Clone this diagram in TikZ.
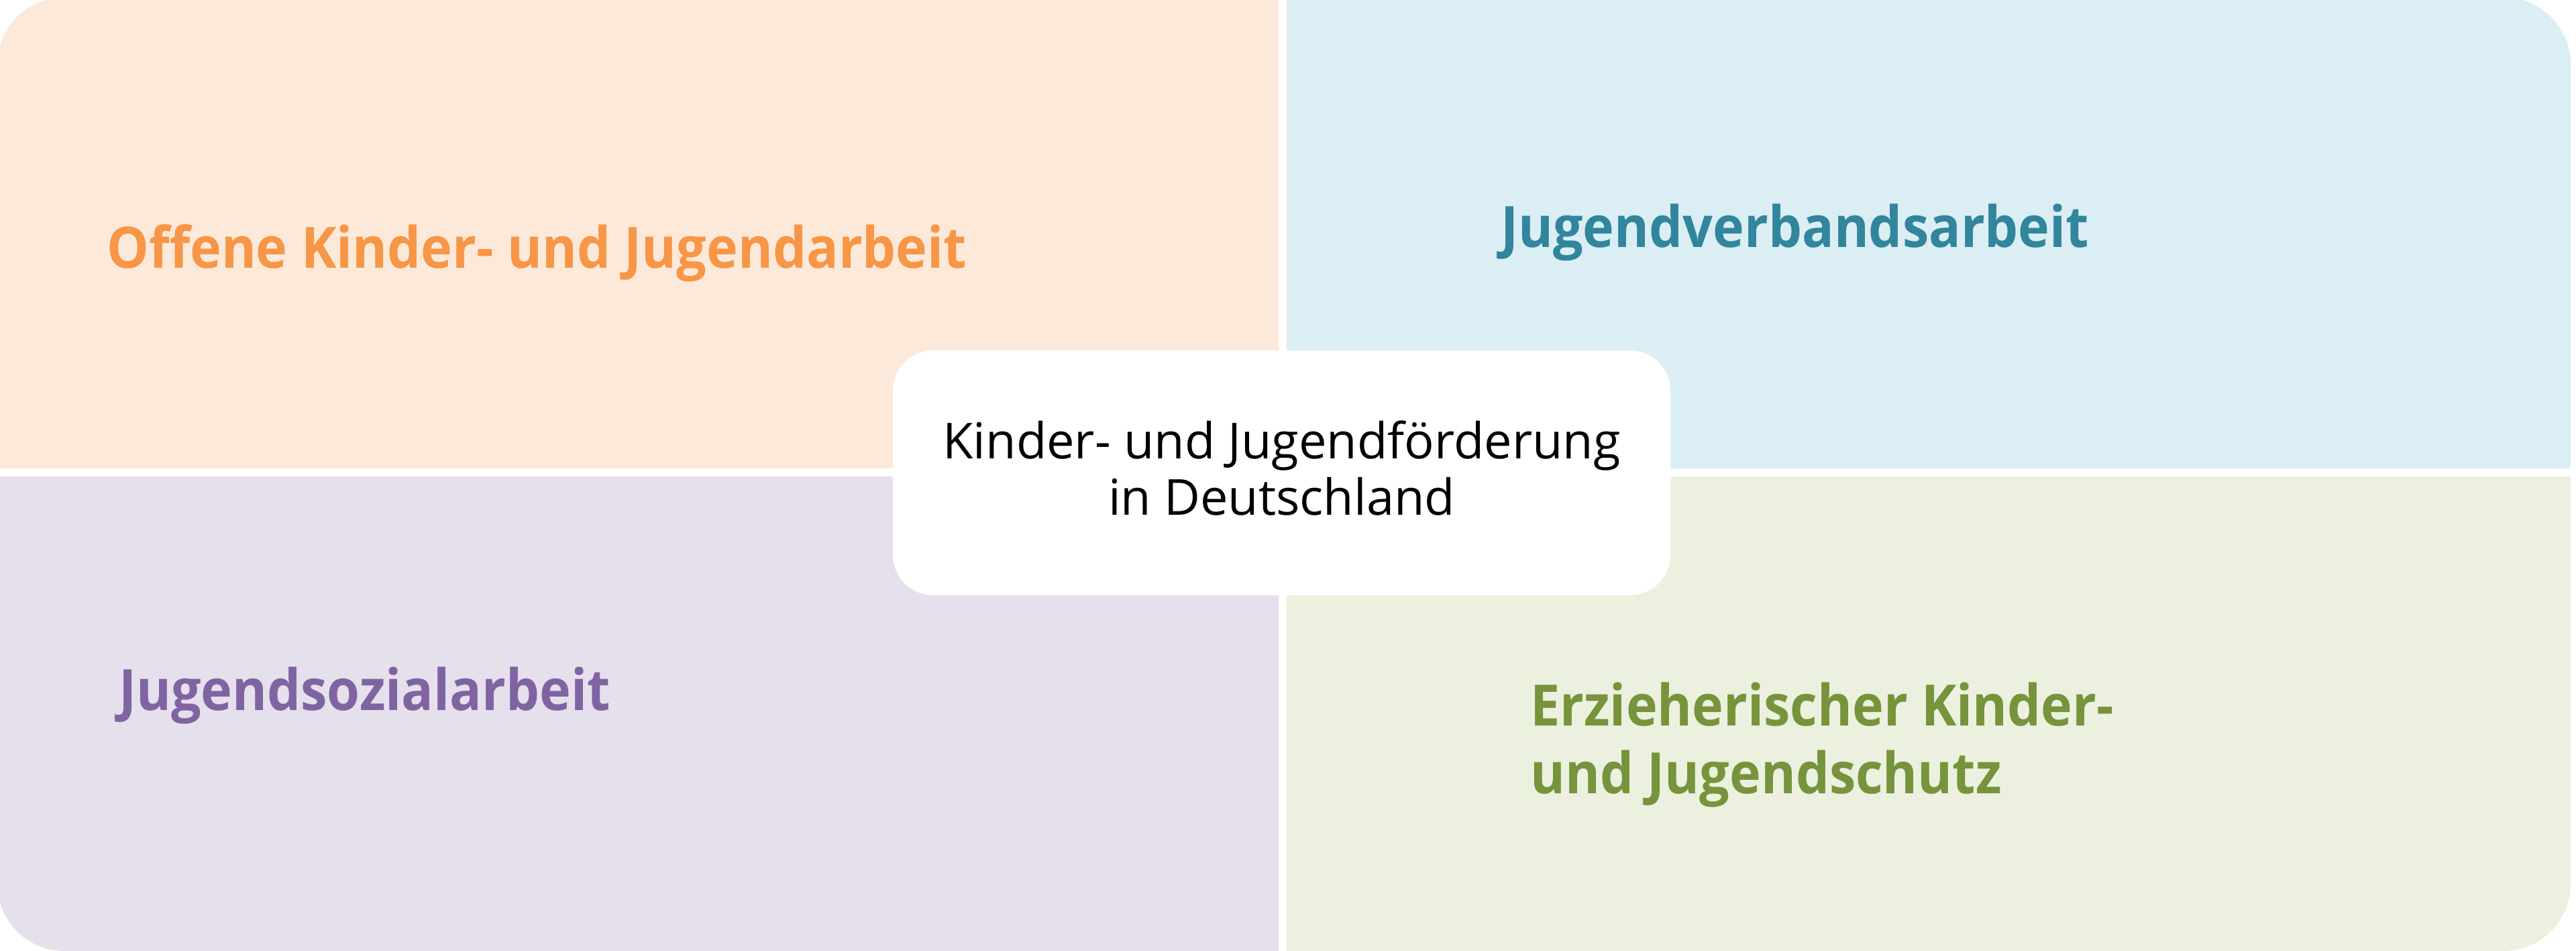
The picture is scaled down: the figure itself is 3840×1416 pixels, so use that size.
\documentclass[tikz,border=0pt]{standalone}
\usepackage{fontspec}
\setmainfont{Open Sans}
\newfontfamily\labfont{Open Sans}[FakeStretch=0.93]
\definecolor{peachbg}{HTML}{FDE9D9}
\definecolor{bluebg}{HTML}{DAEEF3}
\definecolor{purplebg}{HTML}{E5E0EC}
\definecolor{greenbg}{HTML}{EBF1DE}
\definecolor{orangetx}{HTML}{F79646}
\definecolor{tealtx}{HTML}{31859C}
\definecolor{purpletx}{HTML}{8064A2}
\definecolor{greentx}{HTML}{77933C}
\begin{document}
\begin{tikzpicture}[x=1pt,y=-1pt,
  label/.style={anchor=base west, inner sep=0pt, align=left,
    font=\labfont\fontsize{85}{101}\selectfont\bfseries},
  centerbox/.style={fill=white, rounded corners=60pt, inner sep=0pt,
    minimum width=1159pt, minimum height=365pt, align=center,
    text depth=14pt, font=\fontsize{74}{84}\selectfont}]
\useasboundingbox (0,0) rectangle (3840,1416);
\begin{scope}
  \clip[rounded corners=100pt] (-4,-4) rectangle (3832,1417);
  \fill[peachbg]  (-4,-4)    rectangle (1906,698);
  \fill[bluebg]   (1918,-4)  rectangle (3832,698);
  \fill[purplebg] (-4,710)   rectangle (1906,1417);
  \fill[greenbg]  (1918,710) rectangle (3832,1417);
\end{scope}
\node[label, text=orangetx] (offene) at (159,399) {Offene Kinder- und Jugendarbeit};
\node[label, text=tealtx] (verband) at (2237,368) {Jugendverbandsarbeit};
\node[label, text=purpletx] (sozial) at (177,1058) {Jugendsozialarbeit};
\node[label, text=greentx] (schutz) at (2281,1182) {Erzieherischer Kinder-\\und Jugendschutz};
\node[centerbox] (center) at (1910.5,704.5) {Kinder- und Jugendförderung\\in Deutschland};
\end{tikzpicture}
\end{document}
